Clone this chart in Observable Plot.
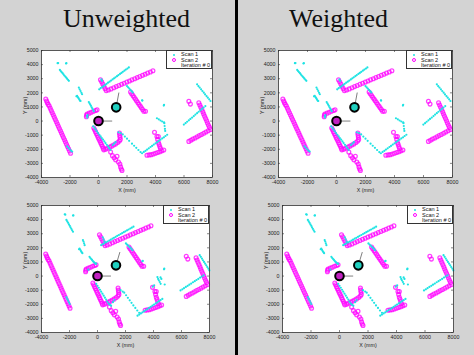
<!DOCTYPE html>
<html><head><meta charset="utf-8">
<script src="https://cdn.jsdelivr.net/npm/d3@7"></script>
<script src="https://cdn.jsdelivr.net/npm/@observablehq/plot@0.6"></script>
<style>
body{margin:0;background:#d3d3d3;}
#page{position:relative;width:474px;height:355px;background:#d3d3d3;overflow:hidden;font-family:"Liberation Sans",Arial,sans-serif;}
.title{position:absolute;font-family:"Liberation Serif","Times New Roman",serif;font-size:26px;color:#111;line-height:1;white-space:nowrap;}
.divider{position:absolute;left:235px;top:0;width:3px;height:355px;background:#000;}
.panel{position:absolute;}
.legend{position:absolute;background:#fff;border:0.7px solid #333;box-sizing:border-box;font-size:5.5px;color:#111;}
.legend .row{position:absolute;left:14px;white-space:nowrap;line-height:1;}
.legend .mk{position:absolute;box-sizing:border-box;border-radius:50%;}
</style></head>
<body><div id="page">
<div class="title" style="left:63px;top:6px;">Unweighted</div>
<div class="title" style="left:289px;top:6px;">Weighted</div>
<div class="divider"></div>
</div>
<script>
// ---- data (mm) ----
const xTicks = [-4000,-2000,0,2000,4000,6000,8000];
const yTicks = [-4000,-3000,-2000,-1000,0,1000,2000,3000,4000,5000];
const seriesNames = ["Scan 1","Scan 2","Iteration # 0"];

// Scan 2 (magenta circles), same in all panels
const scan2 = [
 [-3700,1560],[-3640,1420],[-3590,1300],[-3530,1180],[-3455,1060],[-3385,905],[-3315,745],[-3245,585],[-3170,425],[-3100,265],[-3030,110],[-2955,-50],[-2885,-210],[-2815,-370],[-2745,-530],[-2670,-690],[-2600,-845],[-2530,-1005],[-2460,-1165],[-2385,-1325],[-2315,-1485],[-2245,-1640],[-2175,-1800],[-2100,-1960],[-2030,-2120],[-1960,-2280],
 [-850,300],[-830,420],[-800,500],[-650,560],[-500,620],[-350,690],[-200,750],[-100,800],
 [140,2920],[220,2780],[300,2620],[380,2470],[460,2300],[540,2160],
 [700,2200],[880,2280],[1070,2360],[1250,2440],[1430,2520],[1620,2600],[1800,2680],[1990,2760],[2170,2840],[2350,2920],[2540,3000],[2720,3080],[2900,3160],[3090,3240],[3270,3320],[3450,3400],[3640,3480],[3820,3560],
 [2250,2060],[2330,1940],[2420,1810],[2500,1690],[2590,1560],[2670,1440],[2760,1310],[2840,1190],[2930,1060],[3010,940],[3100,820],[3180,700],[3300,700],
 [-330,-490],[-270,-620],[-210,-750],[-150,-880],[-90,-1010],[-30,-1140],[30,-1270],[90,-1400],[150,-1530],[210,-1660],[270,-1790],[330,-1920],[370,-2040],
 [500,-1990],[640,-1920],[780,-1850],[920,-1780],[1060,-1700],[1200,-1620],[1340,-1520],[1460,-1420],
 [1470,-850],[1490,-1000],[1510,-1150],[1530,-1300],
 [850,-2200],[980,-2450],[1100,-2600],[1300,-2500],[1200,-2750],[1400,-2900],[1500,-3050],[1550,-3250],[1600,-3400],[1650,-3500],
 [3400,-2420],[3550,-2400],[3700,-2380],[3850,-2330],[4000,-2280],[4150,-2230],[4300,-2170],[4450,-2110],[4580,-2050],
 [4100,-1100],[4150,-1300],[4200,-1500],[4250,-1650],[4300,-1800],[4350,-1950],[4200,-1100],[3930,-800],
 [6340,1400],[6450,1200],
 [7040,1300],[7110,1140],[7180,980],[7250,820],[7320,660],[7380,500],[7450,340],[7520,180],[7590,20],[7650,-140],[7720,-300],[7790,-450],[7860,-600],
 [7700,-690],[7540,-780],[7390,-860],[7230,-950],[7080,-1030],[6930,-1110],[6780,-1200],[6620,-1280],[6480,-1360],[6340,-1440]
];

// Scan 1 (cyan dots), top row
const scan1Top = [
 [-2870,4100],[-2830,4110],[-2280,4080],[-2250,4100],
 [-2710,3620],[-2650,3540],[-2590,3470],[-2520,3390],[-2460,3310],[-2400,3230],[-2330,3150],[-2270,3080],[-2210,3000],[-2140,2920],[-2080,2850],
 [-1380,2370],[-1320,2250],[-1260,2130],[-1200,2000],[-1150,1900],
 [-1550,1750],[-1500,1780],[-1450,1700],[-1400,1620],[-1350,1530],[-1300,1450],[-1260,1420],
 [-680,1350],[-630,1260],[-580,1170],[-530,1080],[-480,980],[-430,890],[-380,800],[-330,700],
 [-800,350],[-780,250],[-760,420],
 [50,2250],[150,2330],[260,2410],[360,2480],[470,2560],[570,2640],[670,2720],[780,2790],[880,2870],[990,2950],[1090,3030],[1190,3100],[1300,3180],[1400,3260],[1510,3340],[1610,3410],[1710,3490],[1820,3570],[1920,3650],[2030,3720],[2130,3800],
 [200,2950],[250,2850],
 [2000,2480],[2080,2390],[2160,2300],[2240,2210],[2320,2120],[2400,2030],
 [3060,1470],[3080,1450],[4580,1100],[4600,1150],
 [3060,-2280],[3180,-2190],[3300,-2110],[3410,-2020],[3530,-1930],[3650,-1840],[3760,-1760],[3880,-1670],[4000,-1580],[4120,-1500],[4230,-1410],[4350,-1320],[4470,-1230],[4590,-1150],[4700,-1060],[4820,-970],
 [4100,200],[4230,120],[4350,40],[4470,-30],[4600,-100],[4620,-150],[4640,-350],[4660,-550],[4680,-700],
 [6920,2600],[7010,2480],[7100,2370],[7200,2250],[7290,2130],[7390,2010],[7480,1890],[7580,1770],[7670,1660],[7770,1540],[7860,1420],
 [5990,-250],[6110,-150],[6220,-50],[6340,50],[6450,150],[6570,250],[6690,350],[6800,460],[6920,560],[7030,660],[7150,760],[7270,860],[7380,960],[7500,1060],
 [-370,-370],[-280,-490],[-200,-610],[-110,-730],[-30,-850],[60,-970],[150,-1090],[230,-1210],[320,-1320],[410,-1440],[490,-1560],[580,-1680],[670,-1800],[750,-1920],[840,-2040],
 [1400,-800],[1550,-850],[1700,-950],[1850,-1100],[2000,-1250],[2150,-1400],[2350,-1600],[2500,-1750],[2650,-1900],[2800,-2050],[2950,-2200],
 [1000,-1700],[1100,-1600],[1200,-1500],
 [-2200,-1800],[-2110,-1900],[-2020,-2000],[-1930,-2100],[-1850,-2160]
];

// Scan 1 (cyan dots), bottom row
const scan1Bottom = [
 [-2340,4380],[-2300,4350],[-1750,4290],[-1720,4300],
 [-2220,3980],[-2160,3870],[-2100,3770],[-2040,3660],[-1980,3560],[-1930,3450],[-1870,3350],[-1810,3240],[-1750,3140],
 [-1040,2550],[-1000,2450],[-960,2320],[-920,2190],
 [-1320,1900],[-1280,1950],[-1230,1860],[-1180,1770],[-1130,1690],[-1080,1620],
 [-570,1360],[-510,1280],[-450,1210],[-390,1140],[-330,1060],[-270,1000],[-210,940],[-150,880],[-90,880],
 [-650,450],
 [260,2190],[380,2260],[490,2320],[610,2390],[720,2450],[840,2520],[950,2580],[1070,2650],[1180,2710],[1300,2780],[1410,2850],[1530,2910],[1650,2980],[1760,3040],[1880,3110],[1990,3170],[2110,3240],[2220,3300],[2340,3370],[2450,3430],[2570,3500],
 [380,2750],[440,2600],[500,2450],
 [2030,2310],[2110,2230],[2190,2150],[2270,2070],[2350,1990],[2430,1910],[2500,1830],
 [3210,1050],[3230,1080],[4750,480],[4770,520],
 [4280,-70],[4330,-200],[4380,-300],[4450,-420],[4510,-550],[3950,-750],[4050,-650],[4500,-100],[4560,-200],[4800,-600],
 [2860,-2810],[2980,-2730],[3100,-2650],[3210,-2570],[3330,-2490],[3450,-2410],[3570,-2340],[3690,-2260],[3800,-2180],[3920,-2100],[4040,-2020],[4160,-1940],[4280,-1860],[4390,-1780],[4510,-1700],[4630,-1620],
 [7300,1480],[7380,1360],[7460,1240],[7530,1120],[7610,1000],[7690,880],[7770,760],[7840,640],[7920,520],[7990,400],
 [5930,-1020],[6060,-940],[6180,-860],[6310,-770],[6440,-690],[6560,-610],[6690,-530],[6820,-440],[6950,-360],[7070,-280],[7200,-200],[7330,-110],[7450,-30],[7580,50],
 [-90,-550],[0,-690],[90,-830],[180,-970],[260,-1110],[350,-1250],[440,-1390],[530,-1530],[620,-1670],[700,-1820],[790,-1960],[880,-2030],[970,-2100],
 [1650,-1000],[1800,-1100],[1910,-1180],[2040,-1360],[2170,-1540],[2300,-1720],[2430,-1900],[2560,-2080],[2700,-2260],[2840,-2440],[2980,-2600],
 [1100,-1850],[1200,-1700],
 [-2220,-1500],[-2160,-1620],[-2100,-1740],[-2040,-1860],[-1980,-1980]
];

// robot poses: [x, y, headingX, headingY]
const pose2 = [0, 0, 960, 0];
const pose1Top = [1240, 970, 1430, 2020];
const pose1Bottom = [1320, 760, 1600, 1700];

// ---- layout ----
const panels = [
  {left:0,   top:40,  fx0:41,  fx1:212, fy0:50,  fy1:177, scan1:scan1Top,    pose1:pose1Top},
  {left:0,   top:195, fx0:41,  fx1:209, fy0:205, fy1:332, scan1:scan1Bottom, pose1:pose1Bottom},
  {left:237, top:40,  fx0:278, fx1:452, fy0:50,  fy1:177, scan1:scan1Top,    pose1:pose1Top},
  {left:237, top:195, fx0:282, fx1:453, fy0:205, fy1:332, scan1:scan1Bottom, pose1:pose1Bottom}
];
const W = 237, H = 158;
const cyan = "#1ee3e3", magenta = "#ff00ff", frameCol = "#333";
const page = document.getElementById("page");

for (const p of panels) {
  const chart = Plot.plot({
    width: W, height: H,
    marginLeft: p.fx0 - p.left, marginRight: p.left + W - p.fx1,
    marginTop: p.fy0 - p.top, marginBottom: p.top + H - p.fy1,
    x: {domain: [-4000, 8000]},
    y: {domain: [-4000, 5000]},
    style: {background: "transparent", fontFamily: "'Liberation Sans', Arial, sans-serif", fontSize: "5.3px", color: "#222"},
    marks: [
      Plot.frame({fill: "#fff", stroke: null}),
      Plot.link([pose2, p.pose1], {x1: d => d[0], y1: d => d[1], x2: d => d[2], y2: d => d[3], stroke: "#808080", strokeWidth: 1}),
      Plot.dot(scan2, {x: d => d[0], y: d => d[1], r: 1.9, stroke: magenta, strokeOpacity: 0.75, strokeWidth: 1.3, fill: "none"}),
      Plot.dot(p.scan1, {x: d => d[0], y: d => d[1], r: 1.1, fill: cyan, stroke: null}),
      Plot.dot([pose2], {x: d => d[0], y: d => d[1], r: 4.3, fill: "#c020c0", stroke: "#000", strokeWidth: 2}),
      Plot.dot([p.pose1], {x: d => d[0], y: d => d[1], r: 4.3, fill: "#20d0c0", stroke: "#000", strokeWidth: 2}),
      Plot.ruleX(xTicks, {x: d => d, y1: -4000, y2: -3860, stroke: frameCol, strokeWidth: 0.6}),
      Plot.ruleX(xTicks, {x: d => d, y1: 5000, y2: 4860, stroke: frameCol, strokeWidth: 0.6}),
      Plot.ruleY(yTicks, {y: d => d, x1: -4000, x2: -3860, stroke: frameCol, strokeWidth: 0.6}),
      Plot.ruleY(yTicks, {y: d => d, x1: 8000, x2: 7860, stroke: frameCol, strokeWidth: 0.6}),
      Plot.frame({stroke: frameCol, strokeWidth: 0.8}),
      Plot.axisX(xTicks, {anchor: "bottom", tickSize: 0, tickPadding: 3, tickFormat: d => String(d), label: null, fontSize: 5.3}),
      Plot.axisY(yTicks, {anchor: "left", tickSize: 0, tickPadding: 3, tickFormat: d => String(d), label: null, fontSize: 5.3}),
      Plot.text(["X (mm)"], {frameAnchor: "bottom", text: d => d, dy: 14, fontSize: 5.3}),
      Plot.text(["Y (mm)"], {frameAnchor: "left", text: d => d, rotate: -90, dx: -16, fontSize: 5.3})
    ]
  });
  const wrap = document.createElement("div");
  wrap.className = "panel";
  wrap.style.left = p.left + "px";
  wrap.style.top = p.top + "px";
  wrap.appendChild(chart);
  page.appendChild(wrap);

  // legend
  const lg = document.createElement("div");
  lg.className = "legend";
  const lw = 46, lh = 19;
  lg.style.left = (p.fx1 - lw) + "px";
  lg.style.top = p.fy0 + "px";
  lg.style.width = lw + "px";
  lg.style.height = lh + "px";
  seriesNames.forEach((name, i) => {
    const row = document.createElement("div");
    row.className = "row";
    row.style.top = (1 + i * 5.6) + "px";
    row.textContent = name;
    lg.appendChild(row);
    if (i < 2) {
      const mk = document.createElement("div");
      mk.className = "mk";
      const s = i === 0 ? 2.2 : 4.2;
      mk.style.width = s + "px"; mk.style.height = s + "px";
      mk.style.left = (7 - s / 2) + "px";
      mk.style.top = (3.8 + i * 5.6 - s / 2) + "px";
      if (i === 0) mk.style.background = cyan;
      else mk.style.border = "0.8px solid " + magenta;
      lg.appendChild(mk);
    }
  });
  page.appendChild(lg);
}
</script>
</body></html>
